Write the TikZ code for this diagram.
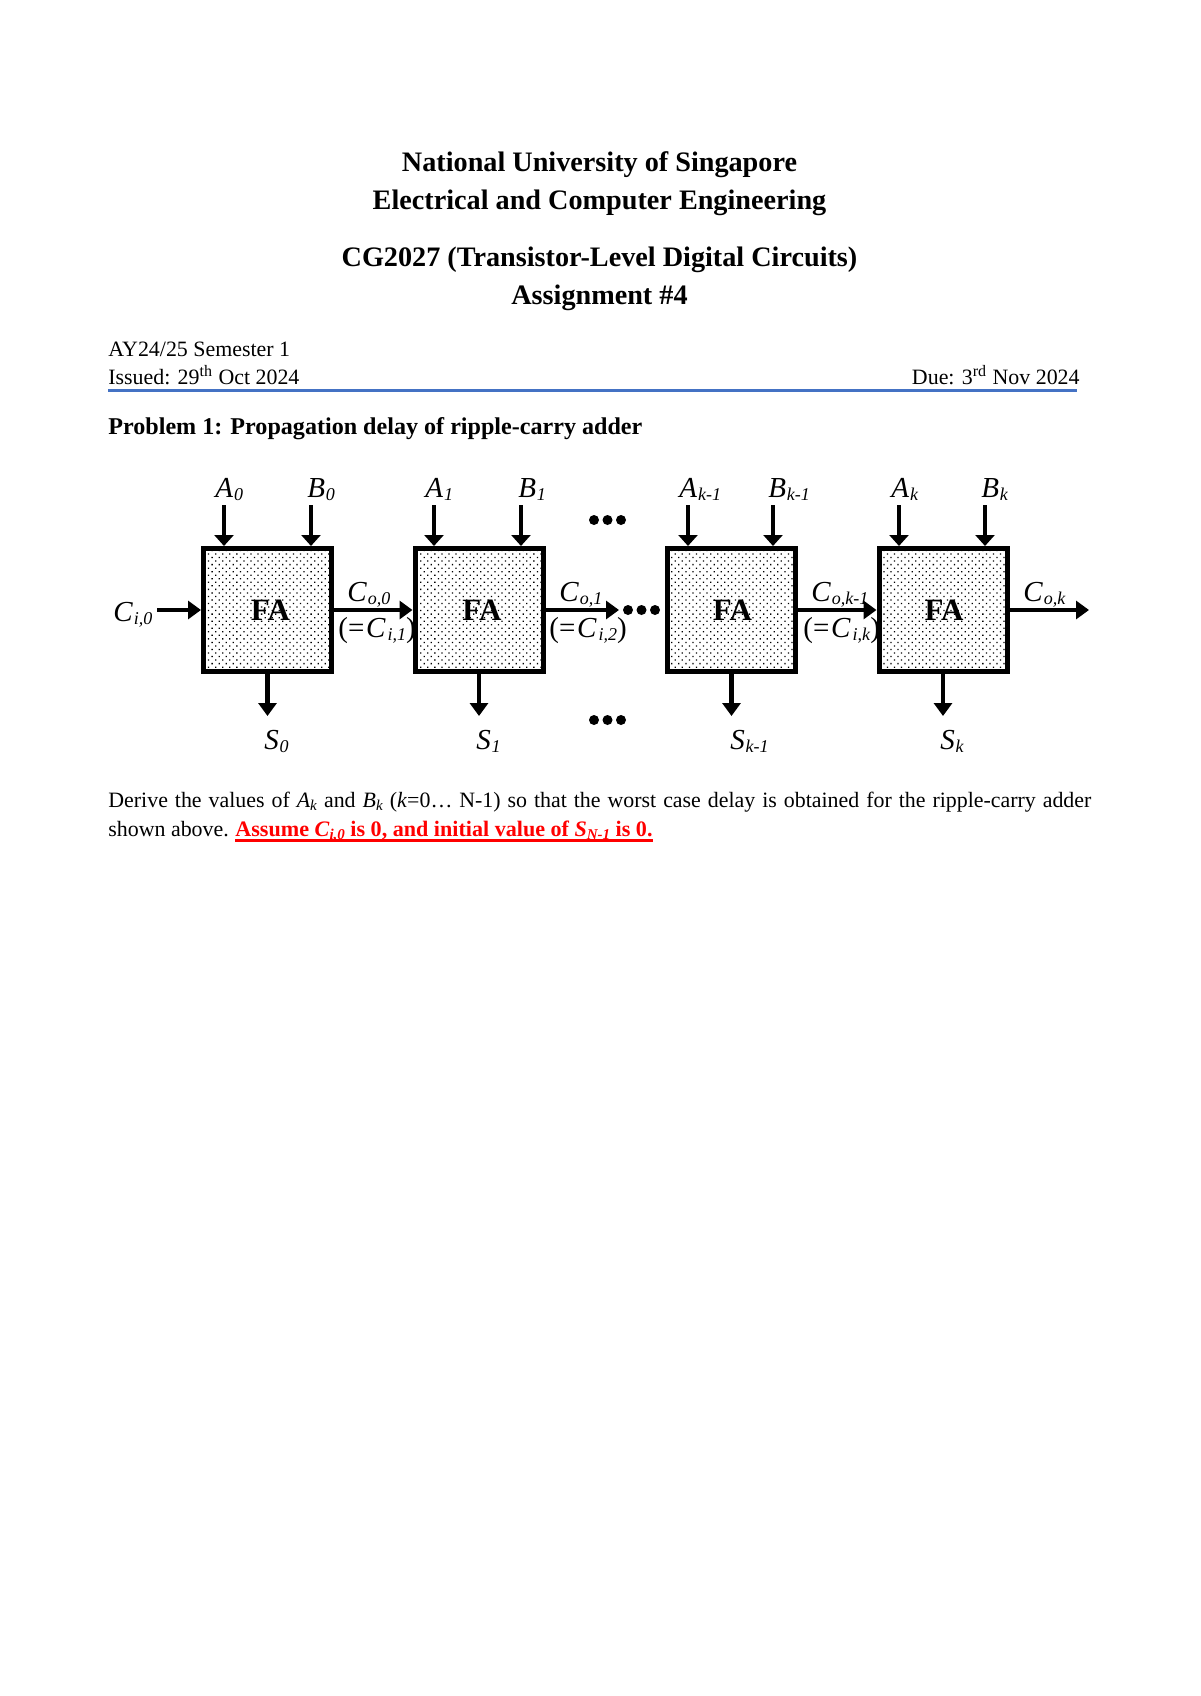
\documentclass[tikz,border=0pt]{standalone}
\usepackage{fontspec}
\usepackage{tikz}
\usetikzlibrary{arrows.meta,patterns.meta}
\setmainfont{Liberation Serif}

\definecolor{rulecol}{HTML}{4472C4}
\newcommand{\sublab}[2]{\textit{#1}\kern0.4pt\raisebox{-1.6pt}{\fontsize{9}{9}\selectfont\textit{#2}}}
\newcommand{\subtxt}[2]{\textit{#1}\raisebox{-1.3pt}{\fontsize{7.5}{7.5}\selectfont\textit{#2}}}

\tikzset{
  headline/.style = {anchor=base, font=\fontsize{14.1}{14.1}\selectfont\bfseries},
  bodyline/.style = {anchor=base west, inner sep=0pt, font=\fontsize{10.95}{10.95}\selectfont},
  siglabel/.style = {anchor=base west, inner sep=0pt, font=\fontsize{14.5}{14.5}\selectfont},
  fabox/.style = {draw, line width=2.5pt, minimum width=64pt, minimum height=61.5pt, inner sep=0pt,
    preaction={fill=white}, pattern={Dots[distance=2.5pt,angle=45,radius=0.45pt]},
    font=\fontsize{15.5}{15.5}\selectfont\bfseries},
  sigarrow/.style = {-{Triangle[length=6.5pt,width=9pt]}, line width=2.1pt},
  inarrow/.style = {-{Triangle[length=5.5pt,width=9.5pt]}, line width=2.1pt},
  dotmark/.style = {fill, circle, inner sep=0pt, minimum size=5pt},
}

\begin{document}
\begin{tikzpicture}[x=0.5pt,y=-0.5pt]
\useasboundingbox (0,0) rectangle (1200,1696);
% heading
\node [headline] (uni) at (599.5,171.5) {National University of Singapore};
\node [headline] (dept) at (599.5,209.5) {Electrical and Computer Engineering};
\node [headline] (course) at (599.5,266) {CG2027 (Transistor-Level Digital Circuits)};
\node [headline] (assign) at (599.5,304) {Assignment \#4};
\node [bodyline] (sem) at (108,356) {AY24/25 Semester 1};
\node [bodyline] (issued) at (108,384.5) {Issued: 29\textsuperscript{th} Oct 2024};
\node [bodyline, anchor=base east] (due) at (1080,384.5) {Due: 3\textsuperscript{rd} Nov 2024};
\coordinate (ruleL) at (108,390.5);
\coordinate (ruleR) at (1077,390.5);
\draw [rulecol, line width=1.5pt] (ruleL) -- (ruleR);
\node [bodyline, font=\fontsize{12.05}{12.05}\selectfont\bfseries] (prob) at (108,434.5) {Problem 1: Propagation delay of ripple-carry adder};
% labels go under the boxes
\node [siglabel] (ci0) at (113,621) {\sublab{C}{i,0}};
\node [siglabel] (a0) at (215,497) {\sublab{A}{0}};
\node [siglabel] (b0) at (307,497) {\sublab{B}{0}};
\node [siglabel] (a1) at (425,497) {\sublab{A}{1}};
\node [siglabel] (b1) at (518,497) {\sublab{B}{1}};
\node [siglabel] (ak1) at (679,497) {\sublab{A}{k-1}};
\node [siglabel] (bk1) at (768,497) {\sublab{B}{k-1}};
\node [siglabel] (ak) at (891,497) {\sublab{A}{k}};
\node [siglabel] (bk) at (981,497) {\sublab{B}{k}};
\node [siglabel] (s0) at (264,749) {\sublab{S}{0}};
\node [siglabel] (s1) at (476,749) {\sublab{S}{1}};
\node [siglabel] (sk1) at (730,749) {\sublab{S}{k-1}};
\node [siglabel] (sk) at (940,749) {\sublab{S}{k}};
\node [siglabel] (co0) at (347,601) {\sublab{C}{o,0}};
\node [siglabel] (co1) at (559,601) {\sublab{C}{o,1}};
\node [siglabel] (cok1) at (811,601) {\sublab{C}{o,k-1}};
\node [siglabel] (cok) at (1023,601) {\sublab{C}{o,k}};
\node [siglabel] (eq1) at (338,637) {(=\kern0.8pt\sublab{C}{\kern0.6pt i,1})};
\node [siglabel] (eq2) at (549,637) {(=\kern0.8pt\sublab{C}{\kern0.6pt i,2})};
\node [siglabel] (eqk) at (803,637) {(=\kern0.8pt\sublab{C}{\kern0.6pt i,k})};
% full adders
\node [fabox] (fa0) at (267.5,610) {\kern3pt FA};
\node [fabox] (fa1) at (479,610) {\kern3pt FA};
\node [fabox] (fa2) at (731.5,610) {\kern1pt FA};
\node [fabox] (fa3) at (943,610) {\kern1pt FA};
% free ends of the arrows
\coordinate (ci0start) at (157,610);
\coordinate (a0start) at (224,505);
\coordinate (b0start) at (311,505);
\coordinate (a1start) at (434,505);
\coordinate (b1start) at (521,505);
\coordinate (ak1start) at (688,505);
\coordinate (bk1start) at (773,505);
\coordinate (akstart) at (899,505);
\coordinate (bkstart) at (985,505);
\coordinate (s0end) at (267.5,716);
\coordinate (s1end) at (479,716);
\coordinate (sk1end) at (731.5,716);
\coordinate (skend) at (943,716);
\coordinate (co1end) at (619,610);
\coordinate (cokend) at (1089,610);
% arrows
\draw [sigarrow] (ci0start) -- (fa0.west);
\draw [inarrow] (a0start) -- (a0start |- fa0.north);
\draw [inarrow] (b0start) -- (b0start |- fa0.north);
\draw [inarrow] (a1start) -- (a1start |- fa1.north);
\draw [inarrow] (b1start) -- (b1start |- fa1.north);
\draw [inarrow] (ak1start) -- (ak1start |- fa2.north);
\draw [inarrow] (bk1start) -- (bk1start |- fa2.north);
\draw [inarrow] (akstart) -- (akstart |- fa3.north);
\draw [inarrow] (bkstart) -- (bkstart |- fa3.north);
\draw [sigarrow] (fa0.south) -- (s0end);
\draw [sigarrow] (fa1.south) -- (s1end);
\draw [sigarrow] (fa2.south) -- (sk1end);
\draw [sigarrow] (fa3.south) -- (skend);
\draw [sigarrow] (fa0.east) -- (fa1.west);
\draw [sigarrow] (fa1.east) -- (co1end);
\draw [sigarrow] (fa2.east) -- (fa3.west);
\draw [sigarrow] (fa3.east) -- (cokend);
% dots between the stages
\node [dotmark] (dt1) at (594,520) {};
\node [dotmark] (dt2) at (607.5,520) {};
\node [dotmark] (dt3) at (621,520) {};
\node [dotmark] (dm1) at (628,610) {};
\node [dotmark] (dm2) at (641.5,610) {};
\node [dotmark] (dm3) at (655,610) {};
\node [dotmark] (db1) at (594,720) {};
\node [dotmark] (db2) at (607.5,720) {};
\node [dotmark] (db3) at (621,720) {};
% question
\node [bodyline] (ques1) at (108,807.5) {\makebox[491.5pt][s]{Derive the values of \subtxt{A}{k} and \subtxt{B}{k} (\textit{k}=0\dots\ N-1) so that the worst case delay is obtained for the ripple-carry adder}};
\node [bodyline] (ques2) at (108,836.5) {shown above.};
\node [bodyline, red, font=\fontsize{11.05}{11.05}\selectfont\bfseries] (assume) at (235,836.5) {Assume \subtxt{C}{i,0} is 0, and initial value of \subtxt{S}{N-1} is 0.};
\coordinate (assumeL) at (235,840.5);
\draw [red, line width=1.4pt] (assumeL) -- (assumeL -| assume.east);
\end{tikzpicture}
\end{document}
